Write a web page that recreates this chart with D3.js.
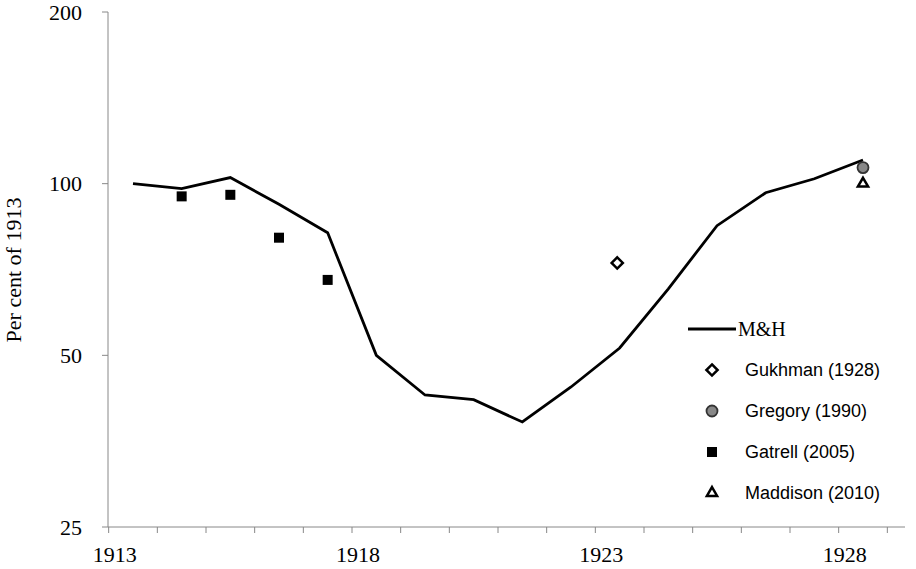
<!DOCTYPE html>
<html><head><meta charset="utf-8">
<script src="https://cdn.jsdelivr.net/npm/d3@7"></script>
<style>body{margin:0;background:#fff}</style></head>
<body><svg id="c" width="916" height="569"></svg>
<script>
const years=[1913,1914,1915,1916,1917,1918,1919,1920,1921,1922,1923,1924,1925,1926,1927,1928];
const mh=[100,98,102.5,92,82,50,42.6,41.8,38.2,44,51.5,65.4,84.4,96.4,102,110];
const gatrellYears=[1914,1915,1916,1917];
const gatrell=[95,95.6,80.4,67.8];
const gukhman=[[1922.95,72.6]];
const gregory=[[1928,106.7]];
const maddison=[[1928,100]];
const yTicks=[25,50,100,200];
const xLabels=[1913,1918,1923,1928];
const legendNames=["M&H","Gukhman (1928)","Gregory (1990)","Gatrell (2005)","Maddison (2010)"];

const svg=d3.select("#c");
const font="Liberation Serif, Times New Roman, serif";
const x=d3.scaleLinear().domain([1913,1928]).range([133,863]);
const y=d3.scaleLog().domain([25,200]).range([527,12]);
const L=108,R=905,B=527;
svg.append("line").attr("x1",L).attr("x2",L).attr("y1",12).attr("y2",B).attr("stroke","#888");
svg.append("line").attr("x1",L).attr("x2",R).attr("y1",B).attr("y2",B).attr("stroke","#888");
yTicks.forEach(t=>{
  svg.append("line").attr("x1",L-6).attr("x2",L).attr("y1",y(t)).attr("y2",y(t)).attr("stroke","#888");
  svg.append("text").attr("x",L-26).attr("y",y(t)).attr("dy","0.35em").attr("text-anchor","end")
    .attr("font-family",font).attr("font-size",22).text(t);
});
d3.range(1912.5,1929,1).forEach(t=>{
  svg.append("line").attr("x1",x(t)).attr("x2",x(t)).attr("y1",B).attr("y2",B+6).attr("stroke","#888");
});
xLabels.forEach(t=>{
  svg.append("text").attr("x",x(t-0.5)+6).attr("y",B+35).attr("text-anchor","middle")
    .attr("font-family",font).attr("font-size",22).text(t);
});
svg.append("text").attr("transform","translate(21,270) rotate(-90)").attr("text-anchor","middle")
  .attr("font-family",font).attr("font-size",22).text("Per cent of 1913");
svg.append("path").datum(years.map((yr,i)=>[yr,mh[i]]))
  .attr("d",d3.line().x(d=>x(d[0])).y(d=>y(d[1]))).attr("fill","none").attr("stroke","#000").attr("stroke-width",2.8);
const sym={
  diamond:(g,cx,cy)=>g.append("path").attr("d",d3.symbol(d3.symbolDiamond2,80)()).attr("transform",`translate(${cx},${cy})`).attr("fill","#fff").attr("stroke","#000").attr("stroke-width",2.5),
  circle:(g,cx,cy)=>g.append("circle").attr("cx",cx).attr("cy",cy).attr("r",5.5).attr("fill","#888").attr("stroke","#333").attr("stroke-width",1.8),
  square:(g,cx,cy)=>g.append("rect").attr("x",cx-5).attr("y",cy-5).attr("width",10).attr("height",10).attr("fill","#000"),
  triangle:(g,cx,cy)=>g.append("path").attr("d",d3.symbol(d3.symbolTriangle2,75)()).attr("transform",`translate(${cx},${cy})`).attr("fill","#fff").attr("stroke","#000").attr("stroke-width",2.5)
};
gukhman.forEach(d=>sym.diamond(svg,x(d[0]),y(d[1])));
gregory.forEach(d=>sym.circle(svg,x(d[0]),y(d[1])));
gatrellYears.forEach((yr,i)=>sym.square(svg,x(yr),y(gatrell[i])));
maddison.forEach(d=>sym.triangle(svg,x(d[0]),y(d[1])));
const kinds=[null,"diamond","circle","square","triangle"];
legendNames.forEach((n,i)=>{
  const ly=329+i*41;
  if(i===0) svg.append("line").attr("x1",688).attr("x2",736).attr("y1",ly).attr("y2",ly).attr("stroke","#000").attr("stroke-width",2.8);
  else sym[kinds[i]](svg,712,ly);
  svg.append("text").attr("x",i===0?738:745).attr("y",ly).attr("dy","0.35em").attr("font-family",i===0?font:"Liberation Sans, Arial, sans-serif")
    .attr("font-size",i===0?20:18).text(n);
});
</script></body></html>
